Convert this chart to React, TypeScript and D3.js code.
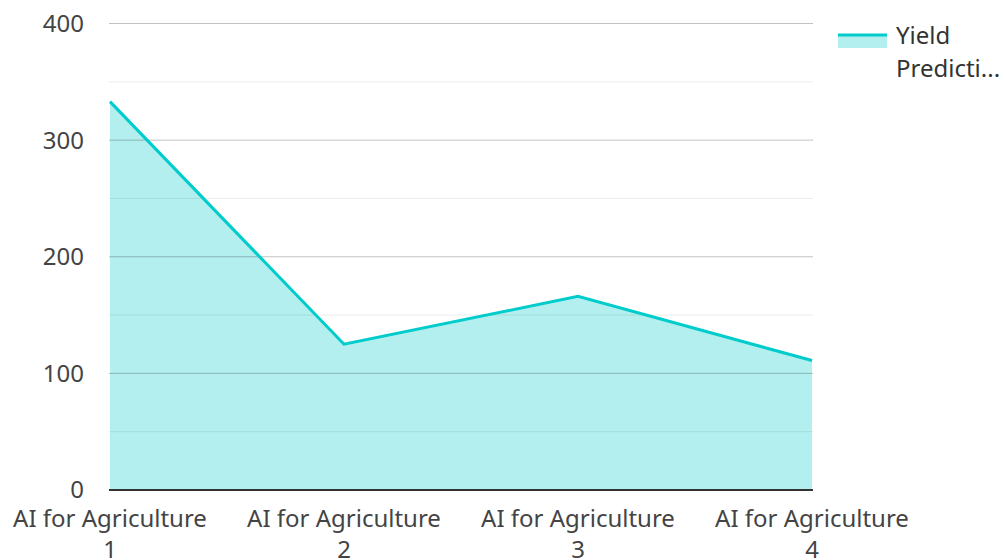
import { useEffect, useRef } from "react";
import * as d3 from "d3";

const categories = [
  "AI for Agriculture 1",
  "AI for Agriculture 2",
  "AI for Agriculture 3",
  "AI for Agriculture 4",
];
const yieldValues = [333, 125, 166, 111];
const yTicks = [0, 100, 200, 300, 400];
const minorTicks = [50, 150, 250, 350];
const seriesName = "Yield Predicti...";

export default function App() {
  const ref = useRef<SVGSVGElement | null>(null);

  useEffect(() => {
    const width = 1004,
      height = 560;
    const margin = { top: 23.5, right: 192, bottom: 70, left: 110 };
    const svg = d3.select(ref.current);
    svg.selectAll("*").remove();

    const font = "'Noto Sans', 'Open Sans', sans-serif";
    const fs = 24;

    const x = d3
      .scalePoint()
      .domain(categories)
      .range([margin.left, width - margin.right]);
    const y = d3
      .scaleLinear()
      .domain([0, 400])
      .range([height - margin.bottom, margin.top]);

    const data = categories.map((c, i) => ({ c, v: yieldValues[i] }));

    // area
    svg
      .append("path")
      .datum(data)
      .attr("fill", "#b2efee")
      .attr(
        "d",
        d3
          .area<{ c: string; v: number }>()
          .x(d => x(d.c)!)
          .y0(y(0))
          .y1(d => y(d.v))
      );

    // minor grid
    svg
      .append("g")
      .selectAll("line")
      .data(minorTicks)
      .enter()
      .append("line")
      .attr("x1", margin.left - 1)
      .attr("x2", width - margin.right + 1)
      .attr("y1", d => y(d))
      .attr("y2", d => y(d))
      .attr("stroke", "rgba(0,0,0,0.08)")
      .attr("stroke-width", 1);

    // major grid
    svg
      .append("g")
      .selectAll("line")
      .data(yTicks.filter(t => t > 0))
      .enter()
      .append("line")
      .attr("x1", margin.left - 1)
      .attr("x2", width - margin.right + 1)
      .attr("y1", d => y(d))
      .attr("y2", d => y(d))
      .attr("stroke", "rgba(0,0,0,0.24)")
      .attr("stroke-width", 1);

    // y labels
    svg
      .append("g")
      .selectAll("text")
      .data(yTicks)
      .enter()
      .append("text")
      .attr("x", margin.left - 26)
      .attr("y", d => y(d))
      .attr("dy", "0.35em")
      .attr("text-anchor", "end")
      .attr("font-family", font)
      .attr("font-size", fs)
      .attr("fill", "#444")
      .text(d => d);

    // line
    svg
      .append("path")
      .datum(data)
      .attr("fill", "none")
      .attr("stroke", "#00cccc")
      .attr("stroke-width", 3)
      .attr(
        "d",
        d3
          .line<{ c: string; v: number }>()
          .x(d => x(d.c)!)
          .y(d => y(d.v))
      );

    // baseline
    svg
      .append("line")
      .attr("x1", margin.left - 1)
      .attr("x2", width - margin.right + 1)
      .attr("y1", y(0))
      .attr("y2", y(0))
      .attr("stroke", "#333")
      .attr("stroke-width", 2);

    // x labels
    const xl = svg
      .append("g")
      .selectAll("text")
      .data(categories)
      .enter()
      .append("text")
      .attr("x", d => x(d)!)
      .attr("y", y(0) + 37)
      .attr("text-anchor", "middle")
      .attr("font-family", font)
      .attr("font-size", fs)
      .attr("fill", "#444");
    xl.append("tspan")
      .attr("x", d => x(d)!)
      .text(d => d.split(" ").slice(0, 3).join(" "));
    xl.append("tspan")
      .attr("x", d => x(d)!)
      .attr("dy", 31)
      .text(d => d.split(" ")[3]);

    // legend
    const lg = svg.append("g").attr("transform", "translate(838,35)");
    lg.append("rect").attr("x", 0).attr("y", 0).attr("width", 49).attr("height", 13).attr("fill", "#b2efee");
    lg.append("line")
      .attr("x1", 0)
      .attr("x2", 49)
      .attr("y1", 0)
      .attr("y2", 0)
      .attr("stroke", "#00cccc")
      .attr("stroke-width", 3);
    const lt = lg
      .append("text")
      .attr("font-family", font)
      .attr("font-size", fs)
      .attr("fill", "#333");
    const words = seriesName.split(" ");
    lt.append("tspan").attr("x", 58).attr("y", 9).text(words[0]);
    lt.append("tspan").attr("x", 58).attr("dy", 33).text(words[1]);
  }, []);

  return (
    <svg
      ref={ref}
      width={1004}
      height={560}
      style={{ position: "absolute", left: 0, top: 0 }}
    />
  );
}
